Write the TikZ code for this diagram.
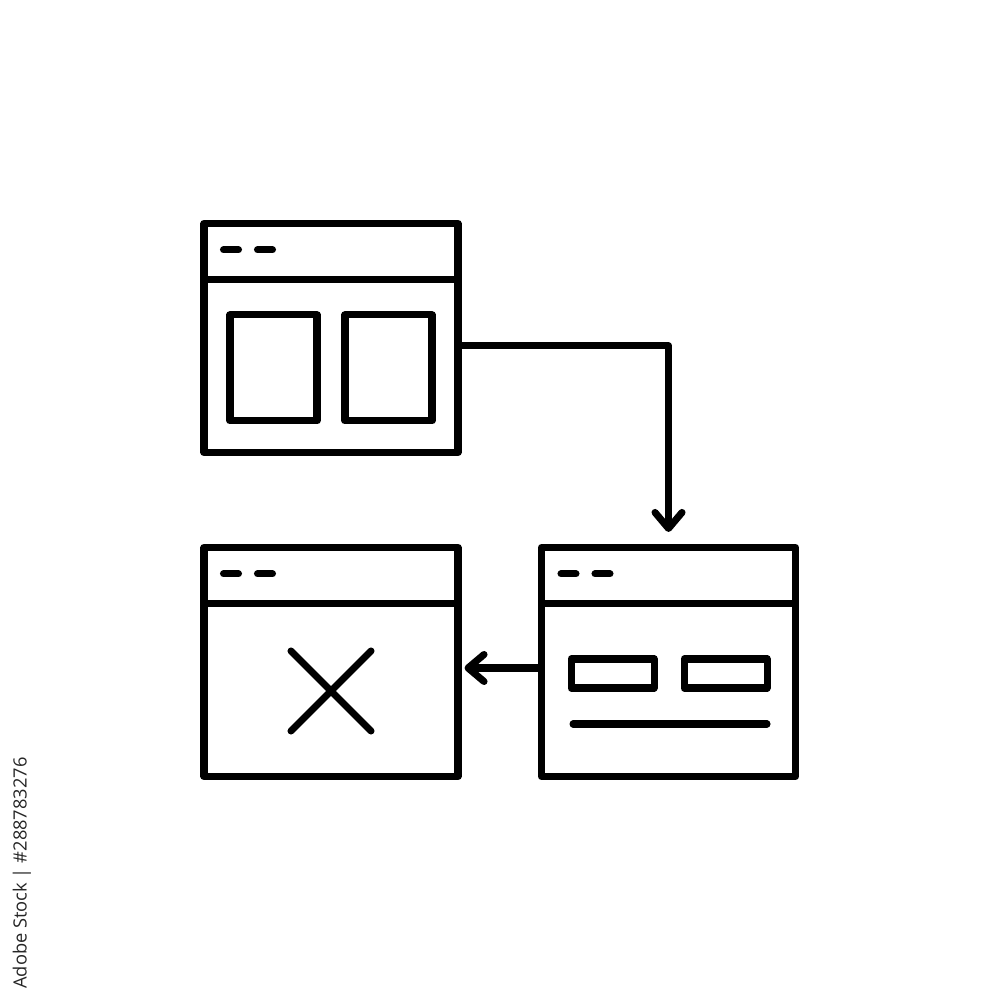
\documentclass[tikz,border=0pt]{standalone}
\usepackage{fontspec}
\newfontfamily\stockfont{Open Sans}
\usetikzlibrary{arrows.meta}
\tikzset{window/.style={draw,rectangle,minimum width=2.54cm,minimum height=2.29cm,inner sep=0pt},
panel/.style={line width=2pt,line join=round},
}

\begin{document}
\begin{tikzpicture}[line width=2pt,line join=round,line cap=round,
flow/.style={-{Straight Barb[length=1.6mm,width=2.7mm,line join=round,line cap=round]}}]
\useasboundingbox (0,0) rectangle (10,10);

\node[window] (win1) at (3.31,6.62) {};
\node[window] (win3) at (3.31,3.38) {};
\node[window] (win2) at (6.685,3.38) {};

% title bars
\foreach \w in {win1,win2,win3} {
  \draw[line cap=butt] ([yshift=-0.6cm]\w.north west) -- ([yshift=-0.6cm]\w.north east);
  \draw ([xshift=0.23cm,yshift=-0.3cm]\w.north west) -- ++(0.15,0);
  \draw ([xshift=0.57cm,yshift=-0.3cm]\w.north west) -- ++(0.15,0);
}

% two columns
\begin{scope}[shift={(win1.center)}]
\draw[panel] (-1.01,0.23) rectangle (-0.14,-0.83);
\draw[panel] (0.14,0.23) rectangle (1.01,-0.83);
\end{scope}

% error page
\begin{scope}[shift={(win3.center)}]
\draw (-0.40,0.11) -- (0.40,-0.69);
\draw (0.40,0.11) -- (-0.40,-0.69);
\end{scope}

% form page
\begin{scope}[shift={(win2.center)}]
\draw[panel] (-0.975,0.03) rectangle (-0.145,-0.26);
\draw[panel] (0.155,0.03) rectangle (0.985,-0.26);
\draw (-0.955,-0.62) -- (0.985,-0.62);
\end{scope}

\draw[flow,line cap=butt,shorten >=0.12cm] ([yshift=-0.08cm]win1.east) -| (win2.north);
\draw[flow,line cap=butt,shorten >=0.03cm] ([yshift=-0.06cm]win2.west) -- ([yshift=-0.06cm]win3.east);

\node[rotate=90,text=black!85,font=\stockfont\fontsize{5.2}{6}\selectfont] (stock) at (0.22,1.27) {Adobe Stock | \#288783276};
\end{tikzpicture}
\end{document}
